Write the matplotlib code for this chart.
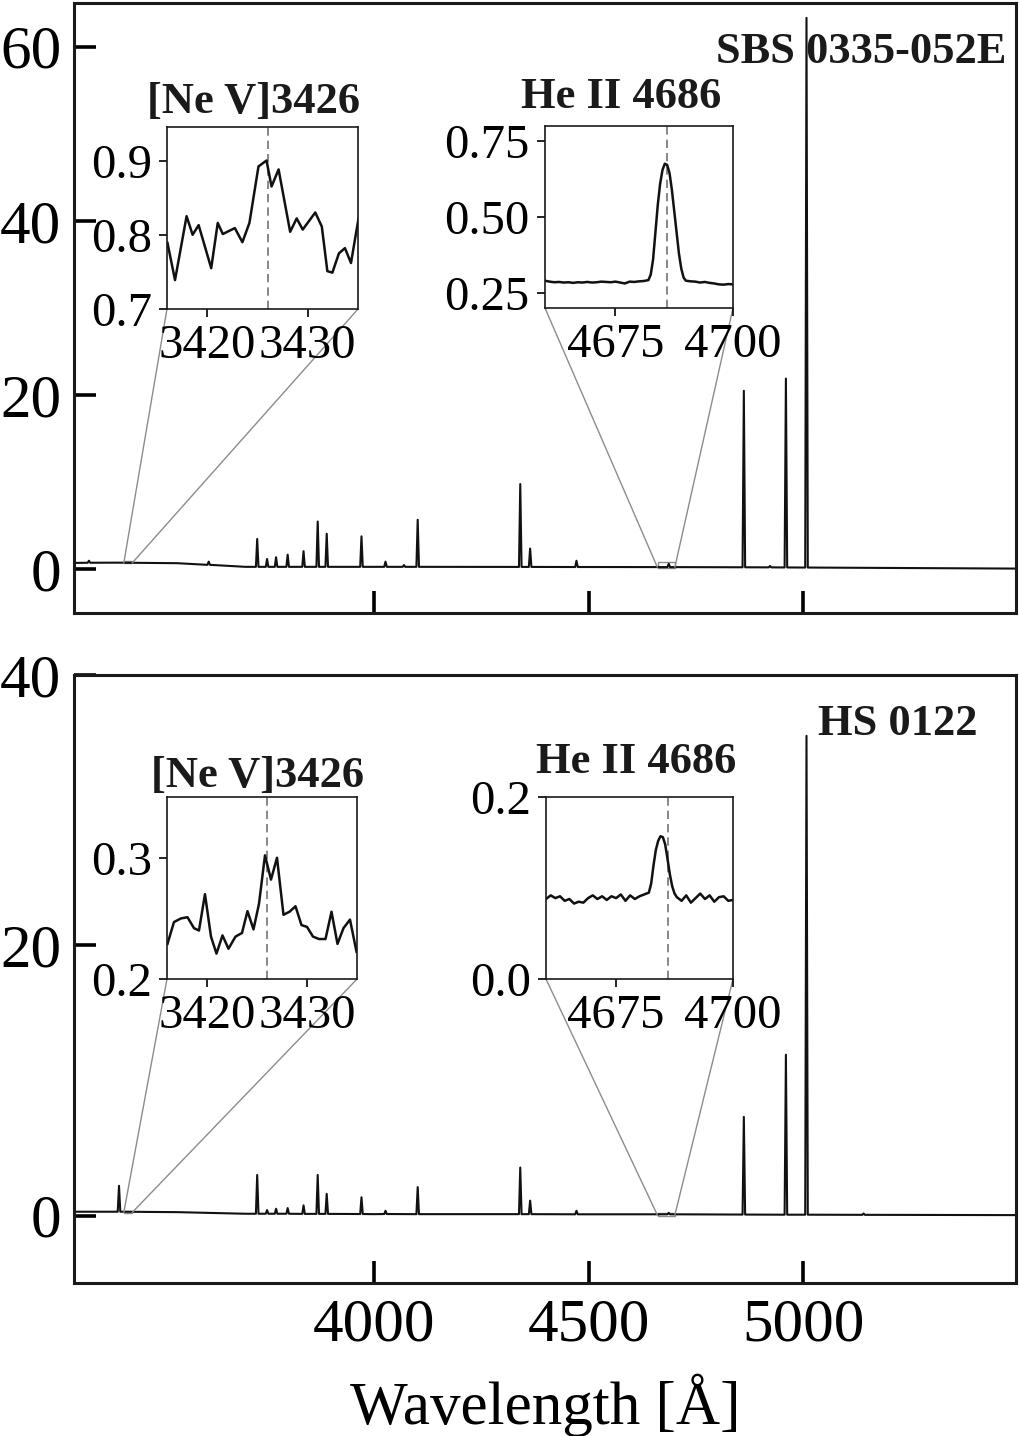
import numpy as np
import matplotlib
matplotlib.use('Agg')
import matplotlib.pyplot as plt
from mpl_toolkits.axes_grid1.inset_locator import mark_inset

plt.rcParams['font.family'] = ['Liberation Serif', 'DejaVu Serif']

# ---- main spectra: continuum knots + emission lines (wavelength, base, peak)
cont_wl = [3300, 3400, 3540, 3700, 4000, 4500, 5000, 5495]
cont_top = [0.75, 0.78, 0.72, 0.30, 0.30, 0.28, 0.22, 0.10]
cont_bot = [0.28, 0.28, 0.25, 0.13, 0.10, 0.09, 0.06, 0.03]

wl_top = [3335, 3614, 3727, 3750, 3771, 3798, 3835, 3868, 3889, 3970, 4026,
          4069, 4101, 4340, 4363, 4471, 4686, 4861, 4922, 4959, 5007]
peak_top = [1.0, 0.9, 3.5, 1.2, 1.4, 1.7, 2.1, 5.5, 4.1, 3.8, 0.9,
            0.5, 5.7, 9.8, 2.4, 1.0, 0.65, 20.5, 0.4, 21.9, 63.3]
base_top = [0.77, 0.53, 0.30, 0.30, 0.30, 0.30, 0.30, 0.30, 0.30, 0.30, 0.30,
            0.30, 0.30, 0.29, 0.29, 0.28, 0.27, 0.25, 0.24, 0.23, 0.22]

wl_bot = [3405, 3727, 3750, 3771, 3798, 3835, 3868, 3889, 3970, 4026, 4101,
          4340, 4363, 4471, 4686, 4861, 4959, 5007, 5140]
peak_bot = [2.2, 3.0, 0.4, 0.5, 0.55, 0.75, 3.0, 1.6, 1.35, 0.35, 2.1,
            3.55, 1.1, 0.35, 0.2, 7.3, 11.9, 35.5, 0.15]
base_bot = [0.28, 0.13, 0.13, 0.13, 0.13, 0.12, 0.12, 0.12, 0.11, 0.11, 0.10,
            0.10, 0.10, 0.09, 0.09, 0.07, 0.06, 0.06, 0.05]

# ---- [Ne V] 3426 zooms
ne_wl_top = [3416.05, 3416.8, 3417.95, 3418.55, 3419.15, 3420.4, 3421.05, 3421.55,
             3422.75, 3423.5, 3424.2, 3425.1, 3425.9, 3426.4, 3427.1, 3428.25,
             3428.9, 3429.5, 3430.75, 3431.4, 3431.95, 3432.45, 3433.1, 3433.7,
             3434.3, 3435.05]
ne_fl_top = [0.789, 0.739, 0.825, 0.800, 0.813, 0.755, 0.816, 0.801,
             0.809, 0.790, 0.816, 0.892, 0.900, 0.865, 0.888, 0.804,
             0.822, 0.807, 0.830, 0.811, 0.751, 0.749, 0.775, 0.782,
             0.762, 0.822]
ne_wl_bot = [3416.05, 3416.7, 3417.4, 3418.05, 3418.7, 3419.2, 3419.8, 3420.4,
             3420.95, 3421.55, 3422.15, 3422.85, 3423.5, 3424.05, 3424.65, 3425.2,
             3425.8, 3426.4, 3427.0, 3427.65, 3428.25, 3428.85, 3429.45, 3430.0,
             3430.6, 3431.2, 3431.85, 3432.45, 3433.05, 3433.65, 3434.3, 3434.95]
ne_fl_bot = [0.229, 0.247, 0.250, 0.251, 0.242, 0.240, 0.270, 0.235,
             0.221, 0.236, 0.225, 0.235, 0.238, 0.256, 0.241, 0.262,
             0.302, 0.282, 0.300, 0.253, 0.2555, 0.260, 0.2445, 0.243,
             0.235, 0.233, 0.233, 0.2555, 0.229, 0.242, 0.249, 0.2225]

# ---- He II 4686 zooms
he_wl = [4660, 4661, 4662, 4663, 4664, 4665, 4666, 4667, 4668, 4669, 4670,
         4671, 4672, 4673, 4674, 4675, 4676, 4677, 4678, 4679, 4680, 4681,
         4682, 4682.5, 4683, 4683.5, 4684, 4684.5, 4685, 4685.5, 4686, 4686.5,
         4687, 4687.5, 4688, 4688.5, 4689, 4689.5, 4690, 4691, 4692, 4693,
         4694, 4695, 4696, 4697, 4698, 4699, 4700]
he_fl_top = [0.290, 0.287, 0.285, 0.286, 0.284, 0.285, 0.283, 0.285, 0.284, 0.286, 0.284,
             0.285, 0.287, 0.286, 0.285, 0.287, 0.284, 0.281, 0.287, 0.286, 0.288, 0.289,
             0.292, 0.31, 0.36, 0.45, 0.54, 0.61, 0.655, 0.676, 0.672, 0.645,
             0.59, 0.52, 0.45, 0.38, 0.33, 0.30, 0.29, 0.288, 0.287, 0.284,
             0.286, 0.283, 0.281, 0.278, 0.277, 0.279, 0.278]
he_fl_bot = [0.088, 0.092, 0.089, 0.091, 0.086, 0.088, 0.083, 0.085, 0.084, 0.089, 0.092,
             0.088, 0.091, 0.087, 0.091, 0.089, 0.093, 0.086, 0.092, 0.088, 0.091, 0.093,
             0.095, 0.105, 0.125, 0.142, 0.152, 0.157, 0.156, 0.148, 0.132, 0.115,
             0.102, 0.094, 0.090, 0.088, 0.086, 0.089, 0.092, 0.084, 0.089, 0.094,
             0.088, 0.092, 0.085, 0.090, 0.091, 0.086, 0.087]


def spectrum(cwl, cfl, wl, base, peak, hw=3.0):
    x = list(cwl)
    y = list(cfl)
    for w, b, p in zip(wl, base, peak):
        x += [w - hw, w, w + hw]
        y += [b, p, b]
    order = np.argsort(x, kind='stable')
    return np.array(x)[order], np.array(y)[order]


def setup_main(ax, ylim, yticks):
    ax.set_xlim(3300, 5495)
    ax.set_ylim(*ylim)
    ax.set_xticks([4000, 4500, 5000])
    ax.set_yticks(yticks)
    ax.tick_params(direction='in', length=16, width=2.6, labelsize=44)
    ax.tick_params(axis='y', pad=9)
    ax.tick_params(axis='x', pad=11)
    for s in ax.spines.values():
        s.set_linewidth(2.2)
        s.set_color('#1a1a1a')


def setup_inset(ax, xlim, ylim, xticks, yticks, ylabels, line, title, tx, ty):
    ax.set_xlim(*xlim)
    ax.set_ylim(*ylim)
    ax.set_xticks(xticks)
    ax.set_yticks(yticks)
    ax.set_yticklabels(ylabels)
    ax.tick_params(direction='out', length=6, width=1.2, labelsize=35, pad=5)
    for s in ax.spines.values():
        s.set_linewidth(1.2)
        s.set_color('#1a1a1a')
    ax.axvline(line, color='0.45', ls=(0, (5, 3)), lw=1.2, zorder=1)
    ax.text(tx, ty, title, transform=ax.transAxes, ha='center', va='baseline',
            fontsize=32, fontweight='bold', color='#1a1a1a')


fig = plt.figure(figsize=(10.2, 14.36), dpi=100)
ax1 = fig.add_axes([0.0725, 0.5731, 0.9235, 0.4248])
ax2 = fig.add_axes([0.0725, 0.1065, 0.9235, 0.4234])

x, y = spectrum(cont_wl, cont_top, wl_top, base_top, peak_top)
ax1.plot(x, y, color='#111111', lw=1.5)
setup_main(ax1, (-5, 65), [0, 20, 40, 60])
ax1.tick_params(axis='x', labelbottom=False)
ax1.text(0.990, 0.9016, 'SBS 0335-052E', transform=ax1.transAxes, ha='right',
         va='baseline', fontsize=32, fontweight='bold', color='#1a1a1a')

x, y = spectrum(cont_wl, cont_bot, wl_bot, base_bot, peak_bot)
ax2.plot(x, y, color='#111111', lw=1.5)
setup_main(ax2, (-5, 40), [0, 20, 40])
ax2.set_xlabel('Wavelength [Å]', fontsize=44, labelpad=14)
ax2.text(0.9597, 0.901, 'HS 0122', transform=ax2.transAxes, ha='right',
         va='baseline', fontsize=32, fontweight='bold', color='#1a1a1a')

# insets, top panel
in1 = fig.add_axes([0.1637, 0.7848, 0.1873, 0.1267])
in1.plot(ne_wl_top, ne_fl_top, color='#111111', lw=1.8, zorder=2)
setup_inset(in1, (3416, 3435), (0.7, 0.945), [3420, 3430], [0.7, 0.8, 0.9],
            ['0.7', '0.8', '0.9'], 3426, '[Ne V]3426', 0.454, 1.077)
in2 = fig.add_axes([0.5343, 0.7855, 0.1843, 0.1267])
in2.plot(he_wl, he_fl_top, color='#111111', lw=1.8, zorder=2)
setup_inset(in2, (4660, 4700), (0.2, 0.8), [4675, 4700], [0.25, 0.5, 0.75],
            ['0.25', '0.50', '0.75'], 4686, 'He II 4686', 0.403, 1.097)

# insets, bottom panel
in3 = fig.add_axes([0.1637, 0.3182, 0.1863, 0.1267])
in3.plot(ne_wl_bot, ne_fl_bot, color='#111111', lw=1.8, zorder=2)
setup_inset(in3, (3416, 3435), (0.2, 0.35), [3420, 3430], [0.2, 0.3],
            ['0.2', '0.3'], 3426, '[Ne V]3426', 0.475, 1.057)
in4 = fig.add_axes([0.5353, 0.3182, 0.1833, 0.1267])
in4.plot(he_wl, he_fl_bot, color='#111111', lw=1.8, zorder=2)
setup_inset(in4, (4660, 4700), (0.0, 0.2), [4675, 4700], [0.0, 0.2],
            ['0.0', '0.2'], 4686, 'He II 4686', 0.481, 1.132)

for parent, inset in [(ax1, in1), (ax1, in2), (ax2, in3), (ax2, in4)]:
    mark_inset(parent, inset, loc1=3, loc2=4, fc='none', ec='0.55', lw=1.0)

fig.savefig('out.png', dpi=100)
